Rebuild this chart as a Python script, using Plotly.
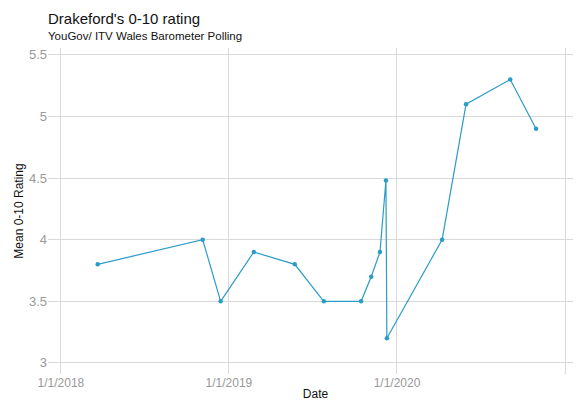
import plotly.graph_objects as go

# YouGov/ITV Wales barometer polls
poll_dates = ['2018-03-22', '2018-11-05', '2018-12-14', '2019-02-24', '2019-05-24',
              '2019-07-26', '2019-10-15', '2019-11-06', '2019-11-25', '2019-12-08',
              '2019-12-10', '2020-04-08', '2020-05-30', '2020-09-03', '2020-10-29']
mean_rating = [3.8, 4.0, 3.5, 3.9, 3.8, 3.5, 3.5, 3.7, 3.9, 4.48, 3.2, 4.0, 5.1, 5.3, 4.9]
x_ticks = ['2018-01-01', '2019-01-01', '2020-01-01', '2021-01-01']
x_tick_labels = ['1/1/2018', '1/1/2019', '1/1/2020', '1/1/2021']

blue = '#2b9cc6'
grid = '#d9d9d9'

fig = go.Figure()
fig.add_trace(go.Scatter(x=poll_dates, y=mean_rating, mode='lines+markers',
                         line=dict(color=blue, width=1.2), marker=dict(color=blue, size=4.5)))

fig.update_layout(
    width=581, height=400, showlegend=False,
    paper_bgcolor='white', plot_bgcolor='white',
    font=dict(family='Liberation Sans, Arial, sans-serif', color='#222'),
    margin=dict(l=40, r=6, t=40, b=34),
    annotations=[
        dict(text="Drakeford's 0-10 rating", x=0, y=1, xref='paper', yref='paper', xshift=-2, yshift=40,
             xanchor='left', yanchor='top', showarrow=False, font=dict(size=15, color='#111')),
        dict(text='YouGov/ ITV Wales Barometer Polling', x=0, y=1, xref='paper', yref='paper', xshift=-2, yshift=20,
             xanchor='left', yanchor='top', showarrow=False, font=dict(size=11.5, color='#111')),
    ],
)
fig.update_xaxes(range=['2017-12-04', '2021-02-08'], tickvals=x_ticks, ticktext=x_tick_labels,
                 showgrid=True, gridcolor=grid, zeroline=False, showline=False, automargin=False,
                 tickfont=dict(size=12, color='#999'), ticks='',
                 title=dict(text='Date', font=dict(size=12, color='#111'), standoff=0))
fig.update_yaxes(range=[2.91, 5.556], tickvals=[3, 3.5, 4, 4.5, 5, 5.5],
                 ticktext=['3', '3.5', '4', '4.5', '5', '5.5'],
                 showgrid=True, gridcolor=grid, zeroline=False, showline=False, automargin=False,
                 tickfont=dict(size=13, color='#999'), ticks='',
                 title=dict(text='Mean 0-10 Rating', font=dict(size=12, color='#111'), standoff=2))

fig.write_html('out.html')
